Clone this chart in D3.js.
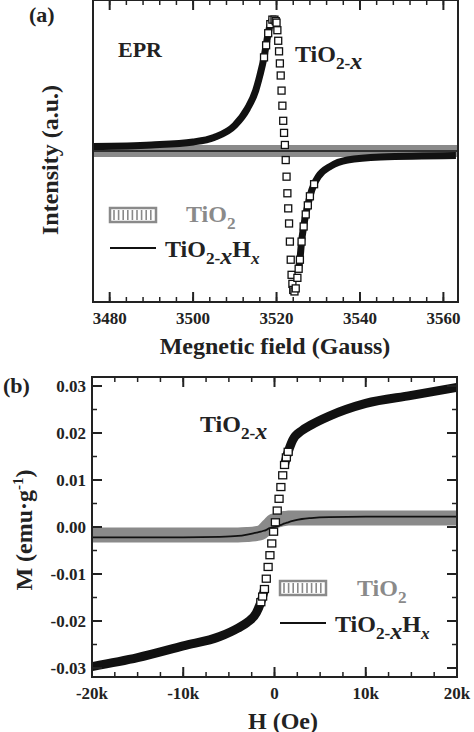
<!DOCTYPE html>
<html><head><meta charset="utf-8">
<script src="https://cdn.jsdelivr.net/npm/d3@7"></script>
<style>body{margin:0;background:#fff}svg text{font-family:"Liberation Serif","DejaVu Serif",serif;font-weight:bold}</style>
</head><body><svg id="c" width="474" height="732" font-family="Liberation Serif"></svg>
<script>
// ---- Data ----
const eprField = [3476,3490,3500,3505,3510,3513,3515,3516,3517,3517.5,3518,3518.5,3519,3519.5,3519.8,3520,3520.2,3520.4,3520.6,3520.8,3521,3521.2,3521.4,3521.6,3521.8,3522,3522.2,3522.4,3522.6,3522.8,3523,3523.2,3523.4,3523.6,3523.8,3524,3524.3,3524.6,3525,3525.3,3525.6,3526,3526.5,3527,3527.5,3528,3529,3530,3533,3537,3545,3563];
const eprTiO2x = [0.03,0.04,0.06,0.09,0.17,0.28,0.40,0.50,0.62,0.70,0.78,0.84,0.87,0.87,0.86,0.85,0.80,0.73,0.66,0.58,0.50,0.40,0.30,0.20,0.12,0.04,-0.06,-0.17,-0.28,-0.38,-0.48,-0.60,-0.72,-0.82,-0.88,-0.92,-0.93,-0.91,-0.84,-0.78,-0.72,-0.60,-0.50,-0.42,-0.36,-0.30,-0.22,-0.17,-0.10,-0.06,-0.04,-0.03];
const eprFlatField = [3476,3563.5];
const eprTiO2 = [0,0];
const eprTiO2xHx = [0,0];
const eprTicks = [3480,3500,3520,3540,3560];

const mHx = [-20000,-15000,-10000,-6000,-4000,-3000,-2000,-1500,-1300,-1100,-900,-700,-500,-300,-100,100,300,500,700,900,1100,1300,1500,2000,3000,4000,6000,10000,15000,20000];
const mTiO2x = [-0.0297,-0.0278,-0.0253,-0.0233,-0.0215,-0.0203,-0.0183,-0.016,-0.0148,-0.0132,-0.011,-0.0085,-0.006,-0.0035,-0.001,0.001,0.0035,0.006,0.0085,0.011,0.0132,0.0148,0.016,0.0185,0.0205,0.0217,0.0236,0.0263,0.028,0.0297];
const mH = [-20000,-15000,-10000,-6000,-4000,-3000,-2000,-1500,-1200,-1000,-800,-600,-400,-200,0,200,400,600,800,1000,1200,1500,2000,3000,4000,6000,10000,15000,20000];
const mTiO2 = [-0.0017,-0.0017,-0.0017,-0.0017,-0.0017,-0.0016,-0.0014,-0.0012,-0.0008,-0.0004,0.0,0.0004,0.0008,0.0012,0.0013,0.0014,0.0015,0.0016,0.0017,0.0018,0.0018,0.0019,0.0019,0.0019,0.0019,0.0019,0.0019,0.0019,0.0019];
const mTiO2xHx = [-0.0022,-0.0022,-0.0022,-0.0021,-0.0019,-0.0016,-0.0012,-0.001,-0.0008,-0.0007,-0.0005,-0.0003,-0.0002,-0.0001,0,0.0001,0.0002,0.0004,0.0005,0.0007,0.0008,0.001,0.0013,0.0017,0.0019,0.0021,0.0022,0.0022,0.0022];
const mYTicks = [-0.03,-0.02,-0.01,0,0.01,0.02,0.03];
const mXTicks = [-20000,-10000,0,10000,20000];

const svg = d3.select("#c");
const GRAY = "#8a8a8a";

function legend(g, x, y1, y2){
  g.append("rect").attr("x",x).attr("y",y1-7).attr("width",46).attr("height",14).attr("fill","#fff").attr("stroke",GRAY).attr("stroke-width",2.5);
  for(let i=0;i<9;i++) g.append("line").attr("x1",x+4+i*4.6).attr("x2",x+4+i*4.6).attr("y1",y1-5).attr("y2",y1+5).attr("stroke",GRAY).attr("stroke-width",1.6);
  g.append("line").attr("x1",x).attr("x2",x+46).attr("y1",y2).attr("y2",y2).attr("stroke","#111").attr("stroke-width",2);
}
function chem(g,x,y,parts,fill,size){
  const t=g.append("text").attr("x",x).attr("y",y).attr("fill",fill).attr("font-size",size);
  parts.forEach(p=>{const s=t.append("tspan").text(p[0]);
    if(p[1]==="sub"){s.attr("font-size",size*0.72).attr("dy",size*0.3);} else if(p[1]==="back"){s.attr("dy",-size*0.3);}
    if(p[2])s.attr("font-style","italic");});
}
function frameAxes(g,x,y,X0,X1,Y0,Y1,xt,xminor,yt,yminor,xfmt,yfmt){
  g.append("rect").attr("x",X0).attr("y",Y1).attr("width",X1-X0).attr("height",Y0-Y1).attr("fill","none").attr("stroke","#222").attr("stroke-width",2);
  xminor.forEach(v=>{const px=x(v);[ [Y0,Y0-5],[Y1,Y1+5] ].forEach(a=>g.append("line").attr("x1",px).attr("x2",px).attr("y1",a[0]).attr("y2",a[1]).attr("stroke","#222").attr("stroke-width",1.5));});
  xt.forEach(v=>{const px=x(v);[[Y0,Y0-10],[Y1,Y1+10]].forEach(a=>g.append("line").attr("x1",px).attr("x2",px).attr("y1",a[0]).attr("y2",a[1]).attr("stroke","#222").attr("stroke-width",2));
    g.append("text").attr("x",px).attr("y",Y0+22).attr("text-anchor","middle").attr("font-size",17).attr("fill","#222").text(xfmt(v));});
  if(yt){yminor.forEach(v=>{const py=y(v);[[X0,X0+5],[X1,X1-5]].forEach(a=>g.append("line").attr("y1",py).attr("y2",py).attr("x1",a[0]).attr("x2",a[1]).attr("stroke","#222").attr("stroke-width",1.5));});
    yt.forEach(v=>{const py=y(v);[[X0,X0+10],[X1,X1-10]].forEach(a=>g.append("line").attr("y1",py).attr("y2",py).attr("x1",a[0]).attr("x2",a[1]).attr("stroke","#222").attr("stroke-width",2));
      g.append("text").attr("x",X0-6).attr("y",py+6).attr("text-anchor","end").attr("font-size",17).attr("fill","#222").text(yfmt(v));});}
}

// ---- Panel (a) ----
{
  const g=svg.append("g");
  const x=d3.scaleLinear().domain([3476,3563.5]).range([93,458]);
  const y=d3.scaleLinear().domain([-1,1]).range([302,0]);
  const idx=d3.range(eprField.length);
  const flat=d3.line().x((d,i)=>x(eprFlatField[i])).y(d=>y(d));
  g.append("path").attr("d",flat(eprTiO2)).attr("fill","none").attr("stroke",GRAY).attr("stroke-width",12);
  const line=d3.line().x(i=>x(eprField[i])).y(i=>y(eprTiO2x[i])).curve(d3.curveMonotoneX);
  g.append("path").attr("d",line(idx.filter(i=>eprField[i]<=3519.5))).attr("fill","none").attr("stroke","#111").attr("stroke-width",7);
  g.append("path").attr("d",line(idx.filter(i=>eprField[i]>=3525.3))).attr("fill","none").attr("stroke","#111").attr("stroke-width",7);
  g.append("path").attr("d",flat(eprTiO2xHx)).attr("fill","none").attr("stroke","#111").attr("stroke-width",1.5);
  idx.filter(i=>eprField[i]>=3517&&eprField[i]<=3529).forEach(i=>{
    g.append("rect").attr("x",x(eprField[i])-3.5).attr("y",y(eprTiO2x[i])-3.5).attr("width",7).attr("height",7).attr("fill","#fff").attr("stroke","#111").attr("stroke-width",1.3);});
  frameAxes(g,x,y,93,458,302,0,eprTicks,d3.range(3480,3564,4),null,null,d=>d,null);
  g.append("text").attr("x",29).attr("y",22).attr("font-size",22).attr("fill","#222").text("(a)");
  g.append("text").attr("x",118).attr("y",57).attr("font-size",22).attr("fill","#222").text("EPR");
  chem(g,295,62,[["TiO"],["2-","sub"],["x","",true]],"#222",24);
  legend(g,110,215,248);
  chem(g,186,222,[["TiO"],["2","sub"]],GRAY,24);
  chem(g,165,257,[["TiO"],["2-","sub"],["x","",true],["H","back"],["x","sub",true]],"#222",24);
  g.append("text").attr("transform","translate(58,160) rotate(-90)").attr("text-anchor","middle").attr("font-size",24).attr("fill","#222").text("Intensity (a.u.)");
  g.append("text").attr("x",275).attr("y",354).attr("text-anchor","middle").attr("font-size",24).attr("fill","#222").text("Megnetic field (Gauss)");
}

// ---- Panel (b) ----
{
  const g=svg.append("g");
  const x=d3.scaleLinear().domain([-20000,20000]).range([92,457]);
  const y=d3.scaleLinear().domain([-0.03,0.03]).range([668,386]);
  const idx=d3.range(mH.length), idx2=d3.range(mHx.length);
  const line=d3.line().x(i=>x(mH[i])).curve(d3.curveMonotoneX);
  g.append("path").attr("d",line.y(i=>y(mTiO2[i]))(idx)).attr("fill","none").attr("stroke",GRAY).attr("stroke-width",15);
  const lx=d3.line().x(i=>x(mHx[i])).y(i=>y(mTiO2x[i])).curve(d3.curveMonotoneX);
  g.append("path").attr("d",lx(idx2.filter(i=>mHx[i]<=-1100))).attr("fill","none").attr("stroke","#111").attr("stroke-width",9);
  g.append("path").attr("d",lx(idx2.filter(i=>mHx[i]>=1100))).attr("fill","none").attr("stroke","#111").attr("stroke-width",9);
  g.append("path").attr("d",line.y(i=>y(mTiO2xHx[i]))(idx)).attr("fill","none").attr("stroke","#111").attr("stroke-width",1.8);
  idx2.filter(i=>Math.abs(mHx[i])<=1500).forEach(i=>{
    g.append("rect").attr("x",x(mHx[i])-4).attr("y",y(mTiO2x[i])-3.5).attr("width",8).attr("height",7).attr("fill","#fff").attr("stroke","#111").attr("stroke-width",1.3);});
  frameAxes(g,x,y,92,457,677,377,mXTicks,d3.range(-20000,20001,2500),mYTicks,d3.range(-0.03,0.0301,0.005),d=>d===0?"0":(d/1000)+"k",d=>d.toFixed(2));
  g.append("text").attr("x",3).attr("y",393).attr("font-size",22).attr("fill","#222").text("(b)");
  chem(g,200,432,[["TiO"],["2-","sub"],["x","",true]],"#222",24);
  legend(g,280,588,623);
  chem(g,357,596,[["TiO"],["2","sub"]],GRAY,24);
  chem(g,335,632,[["TiO"],["2-","sub"],["x","",true],["H","back"],["x","sub",true]],"#222",24);
  g.append("text").attr("transform","translate(32,530) rotate(-90)").attr("text-anchor","middle").attr("font-size",24).attr("fill","#222")
    .call(t=>{t.append("tspan").text("M (emu·g");t.append("tspan").attr("font-size",15).attr("dy",-9).text("-1");t.append("tspan").attr("dy",9).text(")");});
  g.append("text").attr("x",283).attr("y",729).attr("text-anchor","middle").attr("font-size",24).attr("fill","#222").text("H (Oe)");
}
</script></body></html>
